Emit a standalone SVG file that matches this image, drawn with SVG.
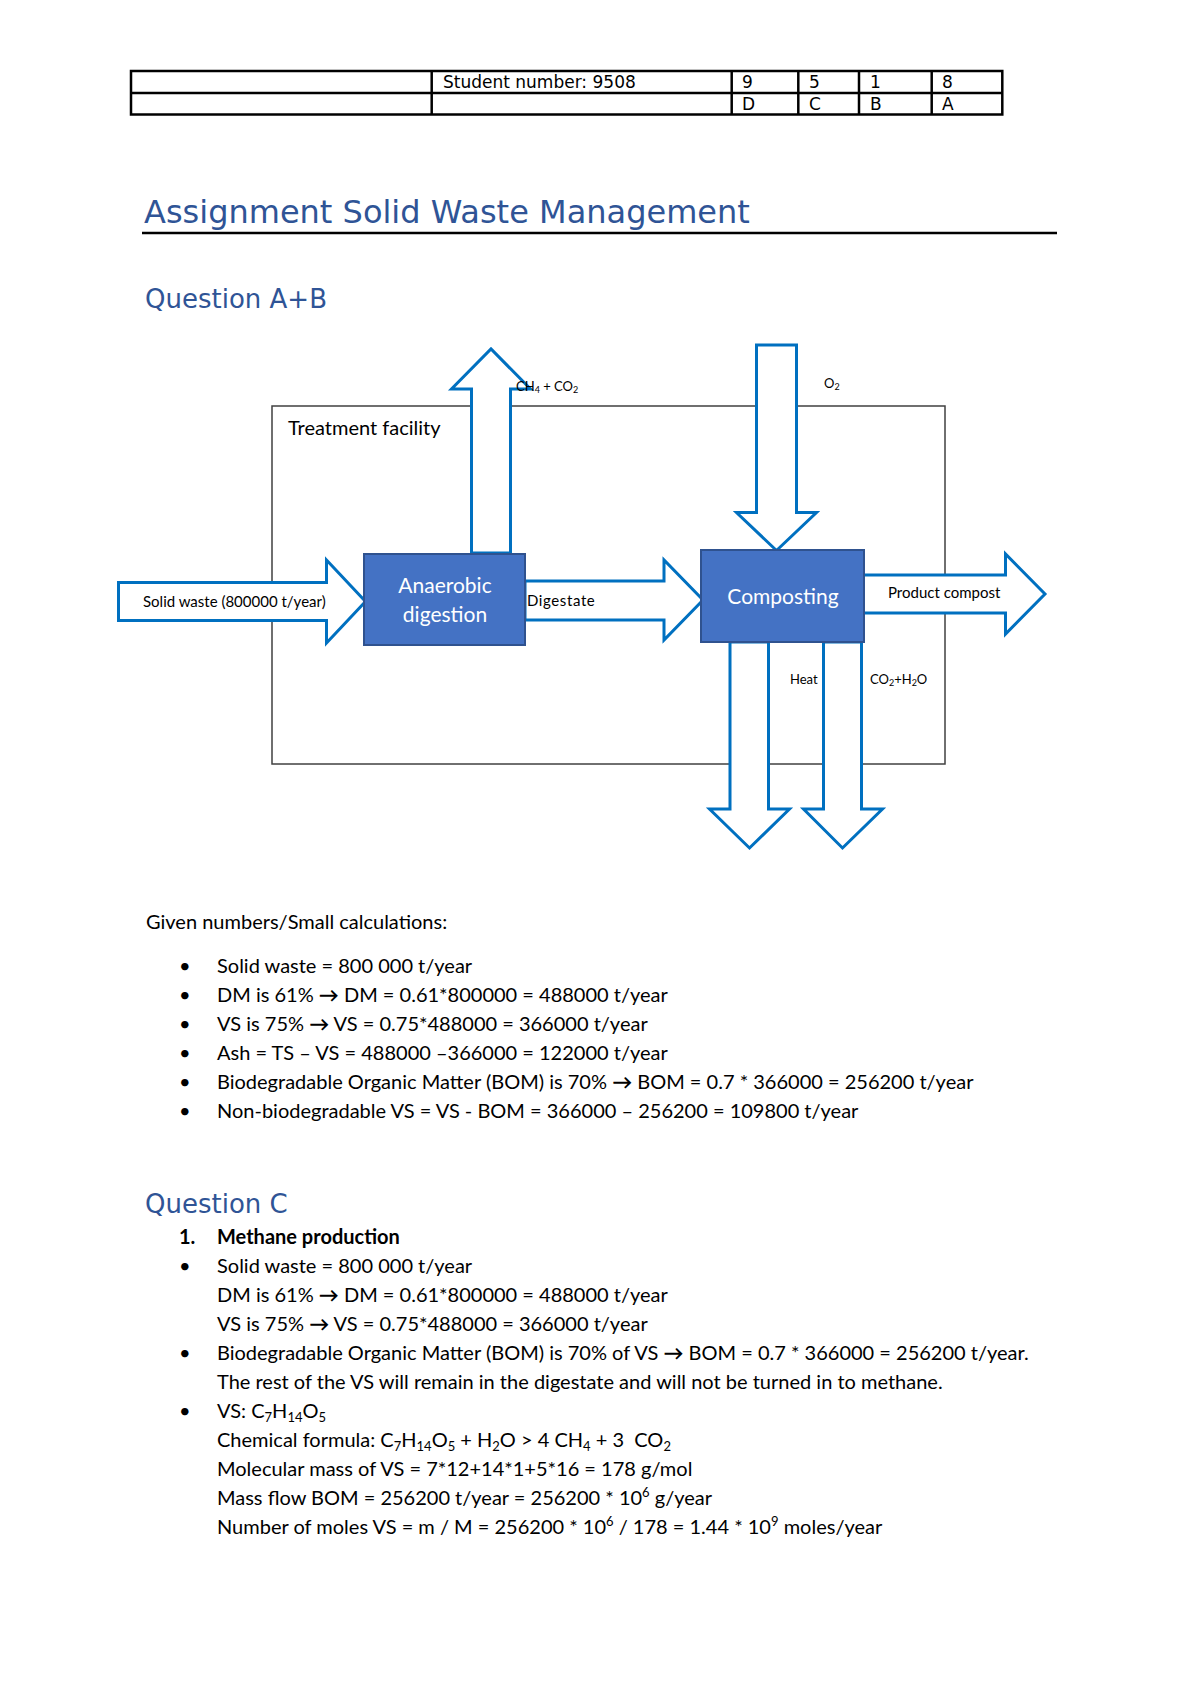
<svg xmlns="http://www.w3.org/2000/svg" width="1200" height="1698" viewBox="0 0 1200 1698">
<style>
.tbl{fill:none;stroke:#000;stroke-width:2.5}
.tt{font-family:"DejaVu Sans",Verdana,sans-serif;font-size:17px;fill:#000}
.h1{font-family:"DejaVu Sans",Verdana,sans-serif;font-size:32px;fill:#2F5496}
.h2{font-family:"DejaVu Sans",Verdana,sans-serif;font-size:26px;fill:#2F5496}
.body{font-family:Lato,"Liberation Sans",sans-serif;font-size:20px;fill:#000}
.bold{font-weight:bold}
.ar{font-weight:bold}
.lbl{font-family:Lato,"Liberation Sans",sans-serif;font-size:15px;fill:#000}
.small{font-family:Lato,"Liberation Sans",sans-serif;font-size:13px;fill:#000}
.box{fill:#4472C4;stroke:#2F528F;stroke-width:2}
.boxt{font-family:Lato,"Liberation Sans",sans-serif;font-size:21px;fill:#fff;text-anchor:middle}
.arr{fill:#fff;stroke:#0070C0;stroke-width:3;stroke-linejoin:miter}
.fac{fill:none;stroke:#404040;stroke-width:1.5}
</style>
<rect width="1200" height="1698" fill="#fff"/>

<g id="header-table">
<rect class="tbl" x="131" y="71" width="871.3" height="43.5"/>
<line class="tbl" x1="131" y1="93" x2="1002.3" y2="93"/>
<line class="tbl" x1="431.7" y1="71" x2="431.7" y2="114.5"/>
<line class="tbl" x1="731.7" y1="71" x2="731.7" y2="114.5"/>
<line class="tbl" x1="798.3" y1="71" x2="798.3" y2="114.5"/>
<line class="tbl" x1="859" y1="71" x2="859" y2="114.5"/>
<line class="tbl" x1="931.7" y1="71" x2="931.7" y2="114.5"/>
<text class="tt" x="443" y="88">Student number: 9508</text>
<text class="tt" x="742" y="88">9</text>
<text class="tt" x="809" y="88">5</text>
<text class="tt" x="870" y="88">1</text>
<text class="tt" x="942" y="88">8</text>
<text class="tt" x="742" y="110">D</text>
<text class="tt" x="809" y="110">C</text>
<text class="tt" x="870" y="110">B</text>
<text class="tt" x="942" y="110">A</text>
</g>

<text class="h1" x="144" y="223">Assignment Solid Waste Management</text>
<line x1="142" y1="233" x2="1057" y2="233" stroke="#000" stroke-width="2.5"/>
<text class="h2" x="145" y="308">Question A+B</text>

<g id="treatment-facility">
<rect class="fac" x="272" y="406" width="673" height="358"/>
<text x="288" y="435" font-family="Lato, 'Liberation Sans', sans-serif" font-size="20" fill="#000">Treatment facility</text>
</g>

<g id="connectors">
<polygon id="arrow-ch4" class="arr" points="471.5,553 471.5,389 451.5,389 491,349 530.5,389 510.5,389 510.5,553"/>
<polygon id="arrow-o2" class="arr" points="756.5,345 796.5,345 796.5,512.5 816.5,512.5 776.5,550.5 736.5,512.5 756.5,512.5"/>
<polygon id="arrow-solid" class="arr" points="118.5,582.5 326.5,582.5 326.5,560 365.5,601.5 326.5,643 326.5,620.5 118.5,620.5"/>
<polygon id="arrow-digestate" class="arr" points="525,581 664,581 664,560 703,600 664,640 664,620 525,620"/>
<polygon id="arrow-product" class="arr" points="862,575 1005.5,575 1005.5,554 1045,594 1005.5,634 1005.5,613 862,613"/>
<polygon id="arrow-heat" class="arr" points="730,642 768.5,642 768.5,809 789.5,809 749.5,848 709.5,809 730,809"/>
<polygon id="arrow-co2h2o" class="arr" points="823.5,642 861.5,642 861.5,809 882.5,809 842.5,848 803.5,809 823.5,809"/>
<text class="small" x="516" y="391">CH<tspan font-size="9" dy="2">4</tspan><tspan dy="-2"> + CO</tspan><tspan font-size="9" dy="2">2</tspan></text>
<text class="small" x="824" y="388">O<tspan font-size="9" dy="2">2</tspan></text>
<text class="lbl" x="143" y="607">Solid waste (800000 t/year)</text>
<text class="lbl" x="527" y="606" letter-spacing="0.6">Digestate</text>
<text class="lbl" x="888" y="598">Product compost</text>
<text class="small" x="790" y="684">Heat</text>
<text class="small" x="870" y="684">CO<tspan font-size="9" dy="2">2</tspan><tspan dy="-2">+H</tspan><tspan font-size="9" dy="2">2</tspan><tspan dy="-2">O</tspan></text>
</g>

<g id="anaerobic-digestion">
<rect class="box" x="364" y="554" width="161" height="91"/>
<text class="boxt" x="445" y="593">Anaerobic</text>
<text class="boxt" x="445" y="622">digestion</text>
</g>

<g id="composting">
<rect class="box" x="701" y="550" width="163" height="92"/>
<text class="boxt" x="783" y="604">Composting</text>
</g>

<g id="given-numbers">
<text class="body" x="146" y="929">Given numbers/Small calculations:</text>
<text class="body" x="179" y="973">•</text>
<text class="body" x="217" y="973">Solid waste = 800 000 t/year</text>
<text class="body" x="179" y="1002">•</text>
<text class="body" x="217" y="1002">DM is 61% <tspan class="ar">→</tspan> DM = 0.61*800000 = 488000 t/year</text>
<text class="body" x="179" y="1031">•</text>
<text class="body" x="217" y="1031">VS is 75% <tspan class="ar">→</tspan> VS = 0.75*488000 = 366000 t/year</text>
<text class="body" x="179" y="1060">•</text>
<text class="body" x="217" y="1060">Ash = TS – VS = 488000 –366000 = 122000 t/year</text>
<text class="body" x="179" y="1089">•</text>
<text class="body" x="217" y="1089">Biodegradable Organic Matter (BOM) is 70% <tspan class="ar">→</tspan> BOM = 0.7 * 366000 = 256200 t/year</text>
<text class="body" x="179" y="1118">•</text>
<text class="body" x="217" y="1118">Non-biodegradable VS = VS - BOM = 366000 – 256200 = 109800 t/year</text>
</g>

<g id="question-c">
<text class="h2" x="145" y="1213">Question C</text>
<text class="body bold" x="179" y="1244">1.</text>
<text class="body bold" x="217" y="1244">Methane production</text>
<text class="body" x="179" y="1273">•</text>
<text class="body" x="217" y="1273">Solid waste = 800 000 t/year</text>
<text class="body" x="217" y="1302">DM is 61% <tspan class="ar">→</tspan> DM = 0.61*800000 = 488000 t/year</text>
<text class="body" x="217" y="1331">VS is 75% <tspan class="ar">→</tspan> VS = 0.75*488000 = 366000 t/year</text>
<text class="body" x="179" y="1360">•</text>
<text class="body" x="217" y="1360">Biodegradable Organic Matter (BOM) is 70% of VS <tspan class="ar">→</tspan> BOM = 0.7 * 366000 = 256200 t/year.</text>
<text class="body" x="217" y="1389">The rest of the VS will remain in the digestate and will not be turned in to methane.</text>
<text class="body" x="179" y="1418">•</text>
<text class="body" x="217" y="1418">VS: C<tspan font-size="13" dy="4">7</tspan><tspan dy="-4">H</tspan><tspan font-size="13" dy="4">14</tspan><tspan dy="-4">O</tspan><tspan font-size="13" dy="4">5</tspan></text>
<text class="body" x="217" y="1447">Chemical formula: C<tspan font-size="13" dy="4">7</tspan><tspan dy="-4">H</tspan><tspan font-size="13" dy="4">14</tspan><tspan dy="-4">O</tspan><tspan font-size="13" dy="4">5</tspan><tspan dy="-4"> + H</tspan><tspan font-size="13" dy="4">2</tspan><tspan dy="-4">O &gt; 4 CH</tspan><tspan font-size="13" dy="4">4</tspan><tspan dy="-4"> + 3 &#160;CO</tspan><tspan font-size="13" dy="4">2</tspan></text>
<text class="body" x="217" y="1476">Molecular mass of VS = 7*12+14*1+5*16 = 178 g/mol</text>
<text class="body" x="217" y="1505">Mass flow BOM = 256200 t/year = 256200 * 10<tspan font-size="13" dy="-8">6</tspan><tspan dy="8"> g/year</tspan></text>
<text class="body" x="217" y="1534">Number of moles VS = m / M = 256200 * 10<tspan font-size="13" dy="-8">6</tspan><tspan dy="8"> / 178 = 1.44 * 10</tspan><tspan font-size="13" dy="-8">9</tspan><tspan dy="8"> moles/year</tspan></text>
</g>
</svg>
